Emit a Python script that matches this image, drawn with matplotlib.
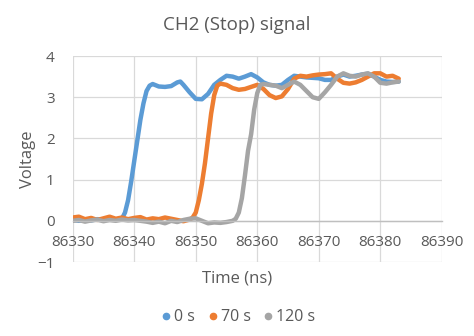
import matplotlib
matplotlib.use('Agg')
from matplotlib import pyplot as plt
from matplotlib import rcParams
from matplotlib.lines import Line2D

TEXT = '#595959'
GRID = '#D9D9D9'
AXIS = '#BFBFBF'

rcParams.update({
  'font.family': ['Open Sans', 'DejaVu Sans'],
  'text.color': TEXT,
  'axes.labelcolor': TEXT,
  'xtick.color': TEXT,
  'ytick.color': TEXT,
})

# time axis (ns) and voltage traces for each measurement
t_0s = [86330, 86331, 86332, 86333, 86334, 86335, 86336, 86337, 86338, 86338.5,
        86339, 86339.5, 86340, 86340.5, 86341, 86341.5, 86342, 86342.5, 86343, 86344,
        86345, 86346, 86347, 86347.5, 86348, 86349, 86350, 86351, 86352, 86353,
        86354, 86355, 86356, 86357, 86358, 86359, 86360, 86361, 86362, 86363,
        86364, 86365, 86366, 86367, 86368, 86369, 86370, 86371, 86372, 86373,
        86374, 86375, 86376, 86377, 86378, 86379, 86380, 86381, 86382, 86383]
v_0s = [0.02, 0.00, 0.03, 0.01, 0.04, 0.02, 0.05, 0.03, 0.05, 0.2,
        0.5, 0.95, 1.45, 1.95, 2.45, 2.85, 3.15, 3.28, 3.32, 3.26,
        3.25, 3.27, 3.36, 3.38, 3.3, 3.12, 2.96, 2.95, 3.08, 3.3,
        3.42, 3.52, 3.5, 3.45, 3.5, 3.56, 3.48, 3.36, 3.3, 3.28,
        3.3, 3.42, 3.52, 3.5, 3.48, 3.47, 3.46, 3.42, 3.42, 3.5,
        3.55, 3.5, 3.52, 3.55, 3.57, 3.5, 3.42, 3.38, 3.37, 3.38]

t_70s = [86330, 86331, 86332, 86333, 86334, 86335, 86336, 86337, 86338, 86339,
         86340, 86341, 86342, 86343, 86344, 86345, 86346, 86347, 86348, 86349,
         86349.5, 86350, 86350.5, 86351, 86351.5, 86352, 86352.5, 86353, 86353.5, 86354,
         86355, 86356, 86357, 86358, 86359, 86360, 86361, 86362, 86363, 86364,
         86365, 86366, 86367, 86368, 86369, 86370, 86371, 86372, 86373, 86374,
         86375, 86376, 86377, 86378, 86379, 86380, 86381, 86382, 86383]
v_70s = [0.08, 0.1, 0.04, 0.07, 0.02, 0.06, 0.1, 0.05, 0.08, 0.04,
         0.07, 0.09, 0.03, 0.06, 0.04, 0.08, 0.05, 0.02, -0.01, 0.03,
         0.08, 0.2, 0.5, 0.9, 1.4, 2.0, 2.6, 3.05, 3.28, 3.33,
         3.3, 3.22, 3.18, 3.2, 3.25, 3.3, 3.2, 3.05, 2.98, 3.02,
         3.2, 3.45, 3.52, 3.5, 3.53, 3.55, 3.56, 3.58, 3.45, 3.35,
         3.33, 3.36, 3.42, 3.5, 3.58, 3.58, 3.5, 3.52, 3.45]

t_120s = [86330, 86331, 86332, 86333, 86334, 86335, 86336, 86337, 86338, 86339,
          86340, 86341, 86342, 86343, 86344, 86345, 86346, 86347, 86348, 86349,
          86350, 86351, 86352, 86353, 86354, 86355, 86356, 86356.5, 86357, 86357.5,
          86358, 86358.5, 86359, 86359.5, 86360, 86360.5, 86361, 86362, 86363, 86364,
          86365, 86366, 86367, 86368, 86369, 86370, 86371, 86372, 86373, 86374,
          86375, 86376, 86377, 86378, 86379, 86380, 86381, 86382, 86383]
v_120s = [0.0, 0.02, -0.02, 0.01, 0.03, -0.01, 0.02, 0.0, 0.03, 0.01,
          0.02, 0.0, -0.02, -0.05, -0.02, -0.06, 0.0, -0.03, 0.02, 0.05,
          0.06, 0.0, -0.06, -0.04, -0.05, -0.03, 0.0, 0.05, 0.2, 0.55,
          1.1, 1.7, 2.1, 2.7, 3.1, 3.3, 3.32, 3.3, 3.28, 3.22,
          3.3, 3.38, 3.3, 3.15, 3.0, 2.96, 3.12, 3.3, 3.5, 3.58,
          3.52, 3.5, 3.55, 3.58, 3.5, 3.35, 3.33, 3.36, 3.38]

series = [
  ('0 s', t_0s, v_0s, '#5B9BD5'),
  ('70 s', t_70s, v_70s, '#ED7D31'),
  ('120 s', t_120s, v_120s, '#A5A5A5'),
]

fig = plt.figure(figsize=(4.74, 3.36), dpi=100)
ax = fig.add_axes([0.1534, 0.2202, 0.7787, 0.6131])

for name, t, v, color in series:
  ax.plot(t, v, color=color, lw=3.2, solid_capstyle='round', solid_joinstyle='round')

ax.set_xlim(86330, 86390)
ax.set_ylim(-1, 4)
ax.set_xticks(range(86330, 86391, 10))
ax.set_yticks(range(-1, 5))
ax.grid(True, color=GRID, lw=0.9)
ax.set_axisbelow(True)

for side in ['top', 'right', 'left']:
  ax.spines[side].set_visible(False)
ax.spines['bottom'].set_position(('data', 0))
ax.spines['bottom'].set_color(AXIS)
ax.spines['bottom'].set_linewidth(1.0)
ax.tick_params(length=0, labelsize=11)
ax.tick_params(axis='x', pad=10)
ax.tick_params(axis='y', pad=13)

fig.text(0.5, 0.925, 'CH2 (Stop) signal', ha='center', va='center', fontsize=13.5)
fig.text(0.06, 0.527, 'Voltage', rotation=90, ha='center', va='center', fontsize=12)
fig.text(0.5, 0.17, 'Time (ns)', ha='center', va='center', fontsize=12)

handles = [Line2D([], [], marker='o', ls='none', color=c, markersize=4.5)
           for _, _, _, c in series]
fig.legend(handles, [s[0] for s in series], loc='center', bbox_to_anchor=(0.5, 0.056),
           ncol=3, frameon=False, fontsize=11.5, handletextpad=0.0, columnspacing=0.6,
           handlelength=1.0)

fig.savefig('out.png', dpi=100)
